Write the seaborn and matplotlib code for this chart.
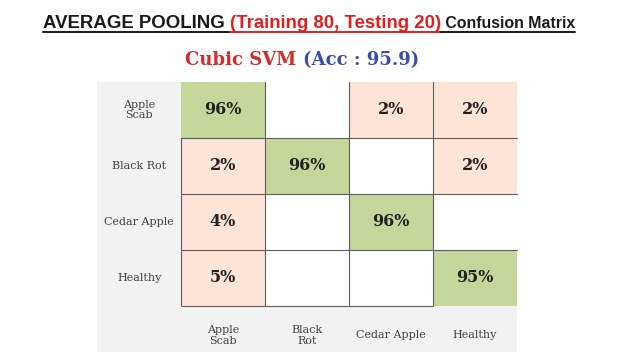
import numpy as np
import pandas as pd
import matplotlib
matplotlib.use("Agg")
import matplotlib.pyplot as plt
import seaborn as sns
from matplotlib.colors import ListedColormap
from matplotlib.lines import Line2D
from matplotlib.patches import Rectangle

# ---- data ----
row_labels = ["Apple\nScab", "Black Rot", "Cedar Apple", "Healthy"]
col_labels = ["Apple\nScab", "Black\nRot", "Cedar Apple", "Healthy"]
row_apple_scab = [96, 0, 2, 2]
row_black_rot = [2, 96, 0, 2]
row_cedar_apple = [4, 0, 96, 0]
row_healthy = [5, 0, 0, 95]
title_parts = ["AVERAGE POOLING ", "(Training 80, Testing 20)", " Confusion Matrix"]
subtitle_parts = ["Cubic SVM ", "(Acc : 95.9)"]

values = np.array([row_apple_scab, row_black_rot, row_cedar_apple, row_healthy])
n = values.shape[0]
cat = np.where(np.eye(n, dtype=bool), 2, np.where(values > 0, 1, 0))
annot = np.vectorize(lambda v: f"{v}%" if v else "")(values)
df = pd.DataFrame(cat, index=row_labels, columns=col_labels)

# ---- styling ----
W, H, DPI = 638, 359, 100
GREEN = "#c4d79b"
PEACH = "#fce4d6"
GRAY = "#f2f2f2"
LINE = "#5e5e5e"
sns.set_theme(style="white")
plt.rcParams["font.family"] = ["DejaVu Sans"]

fig = plt.figure(figsize=(W / DPI, H / DPI), dpi=DPI)
fig.patch.set_facecolor("white")

# gray table background
fig.add_artist(Rectangle((97 / W, 1 - 352 / H), (517 - 97) / W, (352 - 82) / H,
                         transform=fig.transFigure, facecolor=GRAY, edgecolor="none", zorder=0))

ax = fig.add_axes([181 / W, 1 - 306 / H, 336 / W, 224 / H])
ax.set_zorder(1)
sns.heatmap(df, ax=ax, cmap=ListedColormap(["white", PEACH, GREEN]), vmin=-0.5, vmax=2.5,
            annot=annot, fmt="", cbar=False,
            annot_kws=dict(fontsize=11.5, fontweight="bold", family="DejaVu Serif", color="#222222"))

# grid lines
lw = 0.8
for k in range(1, n):
    ax.axhline(k, color=LINE, lw=lw, clip_on=False)
    ax.axvline(k, color=LINE, lw=lw, clip_on=False)
ax.vlines(0, 1, n, color=LINE, lw=lw, clip_on=False)
ax.hlines(n, 0, n - 1, color=LINE, lw=lw, clip_on=False)
for s in ax.spines.values():
    s.set_visible(False)

ax.tick_params(axis="both", length=0)
ax.set_yticklabels(row_labels, rotation=0, ha="center", va="center",
                   family="DejaVu Serif", fontsize=8, color="#404040", linespacing=1.1)
ax.set_xticklabels(col_labels, rotation=0, ha="center", va="center",
                   family="DejaVu Serif", fontsize=8, color="#404040", linespacing=1.1)
ax.tick_params(axis="y", pad=30)
ax.tick_params(axis="x", pad=21)
ax.set_xlabel("")
ax.set_ylabel("")

# ---- title (pieces, underlined) ----
fig.canvas.draw()
r = fig.canvas.get_renderer()
x = 43
base = H - 28
styles = [dict(color="#1a1a1a", fontsize=13.45, fontweight="bold"),
          dict(color="#e0201e", fontsize=13.45, fontweight="bold"),
          dict(color="#1a1a1a", fontsize=11.4, fontweight="bold")]
for txt, st in zip(title_parts, styles):
    t = fig.text(x / W, base / H, txt, family="Liberation Sans", va="baseline", ha="left", **st)
    bb = t.get_window_extent(r)
    fig.add_artist(Line2D([x / W, bb.x1 / W], [(H - 32) / H] * 2, color=st["color"], lw=1.4,
                          transform=fig.transFigure))
    x = bb.x1

# ---- subtitle ----
sub_styles = [dict(color="#d42a2a"), dict(color="#3b4ba6")]
texts = []
widths = []
for txt, st in zip(subtitle_parts, sub_styles):
    t = fig.text(0, (H - 65) / H, txt, family="DejaVu Serif", fontweight="bold", fontsize=13,
                 va="baseline", ha="left", **st)
    texts.append(t)
    widths.append(t.get_window_extent(r).width)
x = 302 - sum(widths) / 2
for t, w in zip(texts, widths):
    t.set_x(x / W)
    x += w

fig.savefig("out.png", dpi=DPI)
